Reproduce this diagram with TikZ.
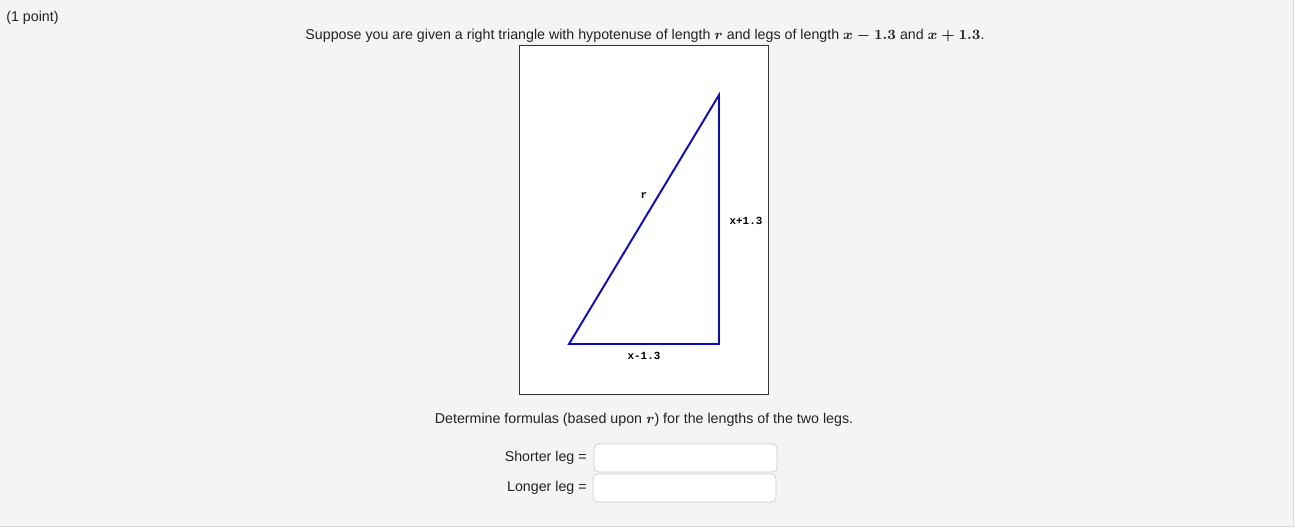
\documentclass[tikz,border=0pt]{standalone}
\usepackage{amsmath}
\usepackage{fontspec}
\setmainfont{Liberation Sans}
\newfontfamily\legfont{Liberation Mono}
\definecolor{pagegray}{HTML}{F4F4F4}
\definecolor{edgegray}{HTML}{DADADA}
\definecolor{boxgray}{HTML}{CCCCCC}
\definecolor{triblue}{HTML}{0A0ACC}
\definecolor{inkgray}{HTML}{222222}

\begin{document}
\begin{tikzpicture}[x=0.02cm, y=-0.02cm,
    every node/.style={inner sep=0pt, text=inkgray,
                       font=\fontsize{8.1}{9.5}\selectfont},
    leglabel/.style={font=\legfont\bfseries\fontsize{6.2}{7}\selectfont, text=black},
    answerbox/.style={draw=boxgray, fill=white, rounded corners=2.5pt,
                      minimum width=3.66cm, minimum height=0.56cm}]

    \useasboundingbox (0,0) rectangle (1296,531);
    \fill[white] (0,0) rectangle (1296,531);
    \fill[pagegray] (0,0) rectangle (1293,526);
    \draw[edgegray] (0,526) -- (1293,526) -- (1293,0);

    \node[anchor=west] (points) at (6,18) {(1 point)};
    \node (intro) at (645,36)
        {Suppose you are given a right triangle with hypotenuse of length $\boldsymbol{r}$
         and legs of length $\boldsymbol{x-1.3}$ and $\boldsymbol{x+1.3}$.};

    \node[  draw=black!80,
            fill=white,
            minimum width=4.98cm,
            minimum height=6.98cm] (frame) at (643.5,219.5)
            { };

    \coordinate (A) at (569,344);
    \coordinate (B) at (719,344);
    \coordinate (C) at (719,95);
    \draw[triblue, line width=1.1pt] (A) -- (B) -- (C) -- cycle;

    \node[leglabel] (hyp) at (644,196) {r};
    \node[leglabel] (longleg) at (746,221) {x+1.3};
    \node[leglabel] (shortleg) at (644,356) {x-1.3};

    \node (ask) at (644,420)
        {Determine formulas (based upon $\boldsymbol{r}$) for the lengths of the two legs.};

    \node[answerbox] (shortbox) at (685.5,458) { };
    \node[answerbox] (longbox) at (684.5,488) { };
    \node[anchor=east] (shortname) at (587,458) {Shorter leg =};
    \node[anchor=east] (longname) at (587,488) {Longer leg =};

\end{tikzpicture}
\end{document}
